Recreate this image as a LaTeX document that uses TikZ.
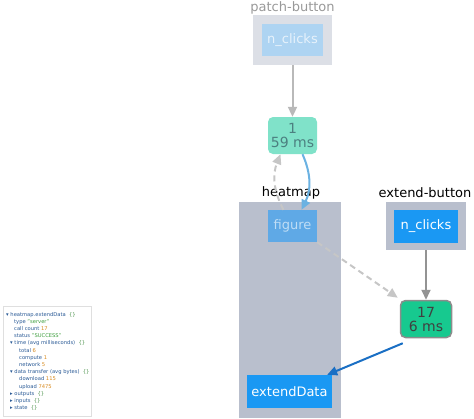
\documentclass[tikz,border=0pt]{standalone}
\usepackage{fontspec}
\setmainfont{DejaVu Sans}
\usepackage{xcolor}
\usetikzlibrary{arrows.meta,positioning}
\definecolor{boxgray}{HTML}{B9BFCD}
\definecolor{fadegray}{HTML}{DCDFE6}
\definecolor{fadeblue}{HTML}{AED4F2}
\definecolor{compblue}{HTML}{1A98F3}
\definecolor{figblue}{HTML}{5FA9E6}
\definecolor{cbfade}{HTML}{80E2C9}
\definecolor{cbgreen}{HTML}{17C98F}
\definecolor{linkblue}{HTML}{1A6FC4}
\definecolor{lightlink}{HTML}{6BB2E2}
\definecolor{keyblue}{HTML}{2A5A96}
\definecolor{strgreen}{HTML}{3C9E3C}
\definecolor{numorange}{HTML}{D88A1E}
\newcommand{\Key}[1]{\textcolor{keyblue}{#1}}
\newcommand{\Str}[1]{\textcolor{strgreen}{#1}}
\newcommand{\Num}[1]{\textcolor{numorange}{#1}}
\newcommand{\Brc}{\textcolor{strgreen!70!gray}{\{\}}}
\newcommand{\Down}{\textcolor{keyblue}{▾}}
\newcommand{\Right}{\textcolor{keyblue}{▸}}

\begin{document}
\begin{tikzpicture}
  [
    x=1pt, y=-1pt,
    font=\fontsize{13}{14.5}\selectfont,
    Container/.style={rectangle, fill=boxgray, inner sep=0pt},
    Comp/.style={rectangle, fill=compblue, text=white, inner sep=0pt},
    Callback/.style={rectangle, rounded corners=5pt, inner sep=0pt, align=center, font=\fontsize{14}{14}\selectfont},
    Title/.style={inner sep=0pt},
    Link/.style={-{Triangle[length=10pt, width=9pt]}, line width=2pt},
    Dash/.style={Link, draw=gray!45, dash pattern=on 6pt off 4pt},
    Line/.style={anchor=base west, inner sep=0pt, font=\fontsize{5.2}{6}\selectfont}
  ]
  \useasboundingbox (0,0) rectangle (474,418);
  % Containers
  \node[Container, fill=fadegray, minimum width=79pt, minimum height=50pt] (pbox) at (292.5,40) {};
  \node[Title, text=gray!80] (ptitle) at (292.5,8) {patch-button};
  \node[Container, minimum width=102pt, minimum height=216pt] (hbox) at (290,310) {};
  \node[Title] (htitle) at (291,193) {heatmap};
  \node[Container, minimum width=80pt, minimum height=48pt] (ebox) at (426,226) {};
  \node[Title] (etitle) at (425,193) {extend-button};
  % Components
  \node[Comp, fill=fadeblue, text=white!70!fadeblue, minimum width=61pt, minimum height=32pt] (pclicks) at (292.5,40) {n\_clicks};
  \node[Comp, fill=figblue, text=white!60!figblue, minimum width=49pt, minimum height=32pt] (fig) at (292.5,226) {figure};
  \node[Comp, minimum width=85pt, minimum height=33pt] (exd) at (289.5,391.5) {extendData};
  \node[Comp, minimum width=64pt, minimum height=33pt] (eclicks) at (426,226.5) {n\_clicks};
  % Callbacks
  \node[Callback, fill=cbfade, text=teal!40!gray, minimum width=49pt, minimum height=37pt] (cb1) at (292.5,135.5) {1\\59 ms};
  \node[Callback, fill=cbgreen, draw=gray!90, line width=1.5pt, text=black!75, minimum width=51pt, minimum height=37pt] (cb2) at (426,319) {17\\6 ms};
  % Lines
  \draw[Link, draw=gray!55] (pbox.south) -- (cb1.north);
  \draw[Dash] ([xshift=-9pt]fig.north) to[bend left=25] ([xshift=-12pt]cb1.south);
  \draw[Link, draw=lightlink] ([xshift=10pt]cb1.south) to[bend left=25] ([xshift=9pt]fig.north);
  \draw[Link, draw=gray!85] (ebox.south) -- (cb2.north);
  \draw[Dash] (fig.south east) -- ([xshift=-2pt,yshift=2pt]cb2.north west);
  \draw[Link, draw=linkblue] ([xshift=3pt,yshift=-5pt]cb2.south west) -- ([xshift=-5pt]exd.north east);
  % Info panel
  \node[draw=gray!25, fill=white, line width=0.8pt, minimum width=88pt, minimum height=110pt, inner sep=0pt] (panel) at (47,361) {};
  \foreach \x/\t [count=\i] in {
      6/{\Down\ \Key{heatmap.extendData}\ \ \Brc},
      14/{\Key{type} \Str{"server"}},
      14/{\Key{call count} \Num{17}},
      14/{\Key{status} \Str{"SUCCESS"}},
      10/{\Down\ \Key{time (avg milliseconds)}\ \ \Brc},
      19/{\Key{total} \Num{6}},
      19/{\Key{compute} \Num{1}},
      19/{\Key{network} \Num{5}},
      10/{\Down\ \Key{data transfer (avg bytes)}\ \ \Brc},
      19/{\Key{download} \Num{115}},
      19/{\Key{upload} \Num{7475}},
      10/{\Right\ \Key{outputs}\ \ \Brc},
      10/{\Right\ \Key{inputs}\ \ \Brc},
      10/{\Right\ \Key{state}\ \ \Brc}}
    \node[Line] (ln\i) at (\x, 316+7.2*\i-7.2) {\t};
\end{tikzpicture}
\end{document}
